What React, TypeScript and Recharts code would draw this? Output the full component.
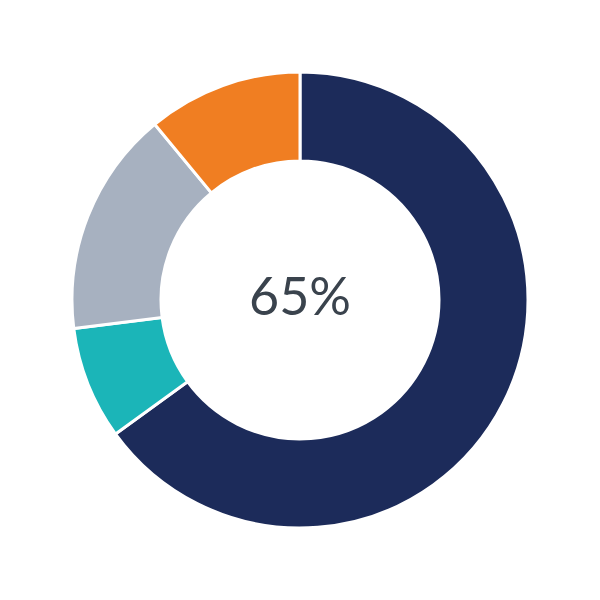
import React from 'react';
import { PieChart, Pie, Cell } from 'recharts';

const segmentNames = ['Primary', 'Teal', 'Gray', 'Orange'];
const segmentValues = [65, 8, 16, 11];
const segmentColors = ['#1c2b5a', '#1bb5b8', '#a7b1c0', '#f07e22'];
const centerLabel = '65%';

const data = segmentNames.map((name, i) => ({ name, value: segmentValues[i] }));

export default function App() {
  return (
    <div style={{ position: 'absolute', left: 0, top: 0, width: 600, height: 600, background: '#fff' }}>
      <PieChart width={600} height={600} margin={{ top: 0, right: 0, bottom: 0, left: 0 }}>
        <Pie
          data={data}
          dataKey="value"
          cx={300}
          cy={300}
          innerRadius={139}
          outerRadius={228}
          startAngle={90}
          endAngle={-270}
          stroke="#ffffff"
          strokeWidth={3}
          isAnimationActive={false}
        >
          {data.map((d, i) => (
            <Cell key={d.name} fill={segmentColors[i]} />
          ))}
        </Pie>
        <text
          x={300}
          y={295}
          textAnchor="middle"
          dominantBaseline="central"
          fill="#3a434d"
          style={{ fontFamily: 'Lato, sans-serif', fontSize: 52, fontWeight: 400 }}
        >
          {centerLabel}
        </text>
      </PieChart>
    </div>
  );
}
